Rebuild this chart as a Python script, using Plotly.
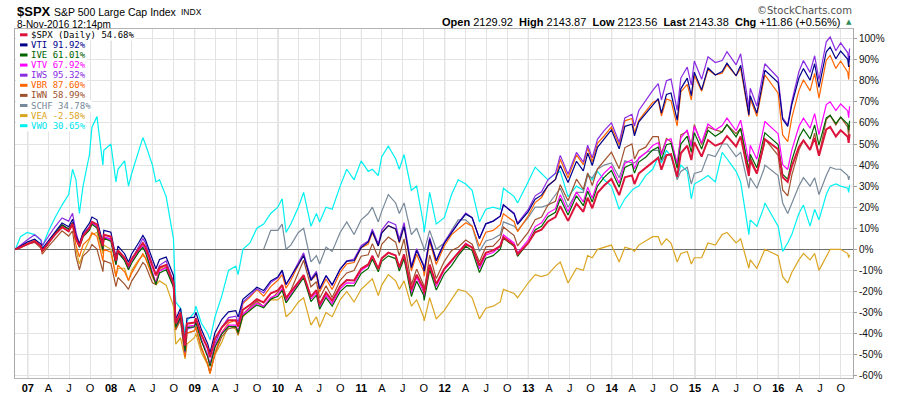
import plotly.graph_objects as go

# ---------------- data (percent change since 8-Nov-2006) ----------------
dates = ["2006-11-08","2006-11-30","2006-12-29","2007-01-31","2007-02-28","2007-03-05","2007-03-30","2007-04-30","2007-05-31","2007-06-29",
"2007-07-16","2007-07-31","2007-08-15","2007-08-31","2007-09-28","2007-10-09","2007-10-31","2007-11-26","2007-11-30","2007-12-31",
"2008-01-22","2008-01-31","2008-02-29","2008-03-17","2008-03-31","2008-04-30","2008-05-19","2008-05-30","2008-06-30","2008-07-15",
"2008-07-31","2008-08-29","2008-09-30","2008-10-10","2008-10-31","2008-11-20","2008-11-28","2008-12-31","2009-01-06","2009-01-30",
"2009-02-27","2009-03-09","2009-03-31","2009-04-30","2009-05-29","2009-06-30","2009-07-10","2009-07-31","2009-08-31","2009-09-30",
"2009-10-30","2009-11-30","2009-12-31","2010-01-19","2010-02-05","2010-02-26","2010-03-31","2010-04-23","2010-05-25","2010-06-18",
"2010-07-02","2010-07-30","2010-08-26","2010-09-30","2010-10-29","2010-11-30","2010-12-31","2011-01-31","2011-02-18","2011-03-16",
"2011-03-31","2011-04-29","2011-05-31","2011-06-16","2011-07-07","2011-08-08","2011-08-31","2011-09-30","2011-10-03","2011-10-27",
"2011-11-25","2011-12-30","2012-01-31","2012-02-29","2012-04-02","2012-04-30","2012-06-01","2012-06-29","2012-07-31","2012-08-31",
"2012-09-14","2012-10-31","2012-11-15","2012-12-31","2013-01-31","2013-02-28","2013-03-28","2013-04-30","2013-05-21","2013-06-24",
"2013-07-31","2013-08-30","2013-09-18","2013-10-08","2013-10-31","2013-11-29","2013-12-31","2014-02-03","2014-02-28","2014-03-31",
"2014-04-11","2014-04-30","2014-05-30","2014-06-30","2014-07-24","2014-08-07","2014-08-29","2014-09-18","2014-10-15","2014-10-31",
"2014-11-28","2014-12-16","2014-12-29","2015-01-30","2015-02-27","2015-03-31","2015-04-30","2015-05-21","2015-06-30","2015-07-20",
"2015-08-25","2015-08-31","2015-09-29","2015-10-30","2015-11-03","2015-12-31","2016-01-20","2016-02-11","2016-02-29","2016-03-31",
"2016-04-20","2016-05-19","2016-06-08","2016-06-27","2016-07-29","2016-08-15","2016-09-09","2016-09-30","2016-10-31","2016-11-04",
"2016-11-08"]

spx = [0, 1.1, 2.4, 3.8, 1.5, -0.8, 2.5, 7.0, 10.5, 8.5,
 12.1, 5.0, 1.5, 6.4, 10.2, 13.0, 11.8, 1.6, 6.9, 6.0,
 -5.4, -0.5, -4.0, -7.9, -4.6, 0.0, 3.0, 1.1, -7.6, -12.3,
 -8.5, -7.4, -15.8, -35.1, -30.1, -45.7, -35.3, -34.8, -32.6, -40.4,
 -47.0, -51.2, -42.4, -37.0, -33.7, -33.7, -36.6, -28.7, -26.4, -23.7,
 -25.2, -20.9, -19.5, -17.0, -23.1, -20.3, -15.6, -12.2, -22.5, -19.4,
 -26.2, -20.5, -24.4, -17.6, -14.6, -14.8, -9.2, -7.2, -3.1, -9.3,
 -4.3, -1.6, -2.9, -8.5, -2.4, -19.2, -12.0, -18.4, -20.7, -7.3,
 -16.4, -9.3, -5.3, -1.5, 2.4, 0.9, -7.8, -1.7, -0.5, 1.5,
 5.8, 1.9, -2.3, 2.9, 8.1, 9.3, 13.2, 15.3, 20.5, 13.5,
 21.7, 17.8, 24.5, 19.5, 26.8, 30.3, 33.4, 25.7, 34.2, 35.1,
 31.0, 36.0, 38.8, 41.5, 43.5, 37.8, 44.6, 45.2, 34.4, 45.6,
 49.2, 42.4, 50.9, 44.0, 51.9, 49.2, 50.5, 53.8, 48.9, 53.6,
 34.8, 42.3, 36.0, 50.1, 52.3, 47.5, 34.2, 32.0, 39.4, 48.6,
 51.7, 47.2, 52.9, 44.4, 56.9, 58.1, 53.6, 56.5, 53.4, 50.5,
 54.68]

vti = [0, 1.6, 3.4, 4.8, 2.5, 0.2, 3.7, 8.6, 12.5, 10.7,
 14.3, 6.6, 2.5, 8.0, 12.4, 15.3, 14.0, 3.1, 9.0, 8.1,
 -4.0, 1.5, -2.1, -6.1, -2.2, 3.0, 6.6, 4.6, -4.4, -9.2,
 -4.8, -3.7, -12.4, -33.2, -28.0, -44.1, -32.7, -32.2, -29.9, -38.0,
 -44.9, -49.2, -39.5, -33.2, -29.7, -29.1, -32.2, -23.7, -20.9, -18.0,
 -19.6, -15.0, -13.1, -9.9, -16.6, -13.1, -7.2, -3.0, -14.7, -11.3,
 -18.8, -12.5, -16.8, -9.4, -5.6, -5.4, 0.8, 3.5, 8.5, 1.6,
 7.7, 11.2, 9.7, 3.4, 10.8, -8.7, -0.6, -7.8, -10.4, 4.8,
 -5.5, 2.9, 8.0, 12.3, 16.7, 15.0, 5.1, 12.1, 13.4, 15.7,
 21.1, 16.7, 11.9, 17.8, 23.8, 25.7, 30.2, 33.2, 39.8, 31.7,
 41.8, 37.2, 45.7, 39.8, 48.4, 52.5, 56.7, 47.7, 58.4, 59.4,
 53.9, 60.5, 64.5, 68.4, 71.5, 64.7, 73.5, 74.2, 61.3, 76.2,
 81.3, 73.0, 84.1, 75.7, 86.1, 82.8, 84.4, 88.4, 82.4, 87.4,
 63.8, 72.9, 64.6, 82.4, 85.0, 79.2, 61.7, 58.4, 68.7, 81.3,
 85.8, 80.3, 88.1, 76.9, 93.8, 96.0, 90.5, 94.1, 90.2, 86.6,
 91.92]

ive = [0, 1.1, 2.4, 3.8, 1.5, -0.8, 2.5, 7.5, 11.6, 9.6,
 12.7, 5.0, 1.0, 5.9, 9.1, 11.9, 10.1, -0.4, 5.3, 3.9,
 -7.3, -1.5, -5.4, -9.7, -6.5, -1.5, 0.9, -1.4, -11.3, -16.7,
 -11.2, -9.7, -17.9, -37.0, -32.2, -48.4, -37.2, -36.8, -34.6, -43.4,
 -51.2, -55.6, -46.4, -40.1, -36.7, -36.7, -39.5, -31.6, -29.0, -26.4,
 -27.8, -23.7, -22.3, -19.5, -25.4, -22.3, -17.3, -13.5, -24.8, -21.8,
 -28.4, -22.9, -27.0, -20.1, -17.2, -17.4, -11.5, -9.1, -4.6, -10.7,
 -5.7, -3.1, -4.4, -10.3, -4.4, -22.4, -15.1, -21.7, -24.3, -9.6,
 -19.3, -11.6, -7.7, -3.0, 1.4, -0.6, -11.0, -4.2, -3.0, 0.0,
 5.3, 1.4, -3.3, 2.9, 9.2, 10.9, 15.5, 17.6, 24.1, 16.3,
 25.4, 20.7, 27.6, 22.5, 30.0, 34.2, 37.4, 29.5, 38.9, 40.5,
 36.2, 41.4, 43.7, 47.2, 48.5, 42.6, 49.7, 50.3, 38.4, 50.0,
 53.7, 46.0, 55.4, 47.6, 56.5, 53.7, 55.8, 59.2, 53.4, 57.4,
 37.5, 45.1, 38.7, 53.1, 55.3, 49.7, 35.5, 33.3, 42.2, 53.1,
 57.0, 52.4, 59.0, 49.5, 62.4, 63.6, 59.7, 62.8, 59.5, 56.5,
 61.01]

vtv = [0, 1.1, 2.4, 3.8, 1.5, -0.8, 2.5, 7.5, 11.6, 9.6,
 12.7, 5.0, 1.5, 6.4, 9.7, 12.4, 10.7, 0.1, 5.8, 4.4,
 -6.8, -1.0, -5.0, -9.3, -6.0, -1.0, 2.0, -0.4, -10.4, -15.8,
 -10.3, -8.8, -17.1, -36.4, -31.5, -47.9, -36.6, -36.1, -33.9, -42.8,
 -50.7, -55.1, -45.9, -39.5, -36.0, -36.0, -38.8, -30.8, -28.2, -25.6,
 -27.1, -22.9, -21.5, -18.7, -24.6, -21.5, -16.4, -12.6, -23.7, -20.6,
 -27.3, -21.7, -25.9, -18.8, -15.9, -16.1, -10.1, -7.7, -3.1, -9.3,
 -4.3, -1.6, -2.9, -9.0, -2.9, -20.8, -13.3, -20.0, -22.7, -8.2,
 -17.7, -9.8, -5.8, -1.5, 2.9, 0.9, -9.2, -2.7, -1.5, 1.5,
 6.9, 2.9, -1.8, 4.4, 10.8, 12.6, 17.2, 19.3, 25.9, 18.0,
 27.2, 22.5, 29.5, 24.3, 31.9, 36.2, 39.4, 31.4, 40.9, 42.5,
 38.2, 43.5, 45.7, 49.3, 50.7, 44.7, 51.8, 52.5, 40.4, 52.9,
 56.7, 48.8, 58.4, 50.5, 59.5, 56.7, 58.8, 62.3, 56.3, 61.3,
 41.5, 49.4, 42.8, 58.4, 60.7, 54.9, 40.2, 37.9, 47.1, 58.3,
 62.3, 57.5, 64.4, 54.5, 68.7, 70.0, 65.9, 69.0, 65.7, 62.5,
 67.92]

iws = [0, 2.1, 4.4, 6.9, 4.5, 1.7, 5.6, 10.7, 14.9, 13.4,
 17.1, 8.2, 2.5, 7.5, 10.8, 13.0, 10.7, 0.1, 5.8, 4.9,
 -7.3, -1.5, -5.0, -8.8, -5.1, 1.0, 5.1, 3.1, -6.7, -12.3,
 -7.6, -5.5, -15.8, -37.0, -32.9, -49.0, -37.9, -36.8, -34.6, -42.8,
 -50.2, -54.6, -44.7, -37.0, -32.4, -31.7, -34.7, -25.1, -22.0, -18.7,
 -20.7, -15.8, -13.5, -10.4, -16.9, -13.1, -6.3, -1.7, -14.0, -10.5,
 -18.8, -12.5, -17.2, -9.4, -5.6, -4.6, 1.7, 3.9, 9.5, 2.5,
 9.1, 13.2, 11.7, 4.8, 12.7, -7.9, 0.3, -7.4, -10.4, 5.7,
 -5.1, 3.4, 8.4, 12.8, 17.2, 15.0, 5.1, 12.1, 13.4, 15.7,
 21.1, 17.2, 12.4, 18.8, 25.4, 27.3, 33.0, 36.1, 44.6, 35.6,
 46.0, 41.4, 49.4, 43.4, 52.2, 56.4, 60.1, 50.8, 62.4, 64.1,
 58.5, 65.9, 70.7, 75.5, 78.7, 70.9, 80.0, 80.8, 66.0, 81.3,
 86.5, 78.0, 89.4, 80.7, 91.4, 88.7, 89.6, 93.8, 87.6, 92.8,
 67.2, 76.5, 68.0, 85.4, 88.1, 81.4, 62.4, 59.1, 70.1, 84.3,
 89.6, 84.0, 91.9, 80.5, 98.5, 100.8, 94.3, 98.0, 93.3, 89.6,
 95.32]

vbr = [0, 1.1, 2.4, 4.3, 1.5, -1.3, 2.5, 7.5, 11.1, 8.5,
 11.5, 1.9, -3.6, 2.1, 5.2, 7.9, 6.2, -5.5, 0.0, -1.4,
 -13.0, -7.5, -10.7, -14.8, -11.3, -6.0, -2.1, -4.0, -13.1, -15.8,
 -9.4, -7.4, -15.8, -37.7, -33.6, -51.1, -39.8, -38.7, -36.6, -46.4,
 -54.4, -59.0, -49.3, -39.5, -35.0, -33.7, -36.6, -25.8, -22.7, -19.1,
 -22.2, -17.7, -14.7, -12.0, -18.5, -14.7, -7.2, -2.5, -14.7, -12.1,
 -20.3, -14.1, -19.1, -11.0, -6.9, -6.3, 0.8, 2.5, 8.0, 1.6,
 8.1, 11.2, 9.7, 2.9, 11.3, -10.3, -2.3, -10.2, -12.8, 3.8,
 -7.2, 1.6, 7.0, 9.8, 12.6, 11.0, 1.4, 8.1, 9.0, 11.7,
 16.9, 13.1, 8.4, 15.8, 22.2, 24.6, 30.2, 33.2, 42.8, 33.9,
 44.8, 40.2, 48.2, 41.6, 50.3, 53.8, 58.1, 49.6, 61.0, 62.1,
 55.2, 61.2, 65.2, 69.8, 70.8, 63.3, 71.4, 70.6, 58.6, 74.7,
 78.3, 70.9, 82.6, 75.0, 85.3, 82.8, 83.6, 87.6, 82.4, 85.9,
 63.1, 71.5, 63.2, 80.1, 82.8, 74.1, 54.3, 51.1, 62.4, 75.3,
 80.5, 75.2, 83.5, 71.8, 89.8, 92.1, 85.9, 89.4, 84.1, 80.6,
 87.60]

iwn = [0, 0.6, 2.4, 3.3, 0.5, -2.3, 1.0, 4.9, 8.8, 6.3,
 8.7, -3.4, -9.7, -3.2, -0.3, 2.3, 0.1, -10.6, -5.4, -6.7,
 -17.7, -13.4, -16.5, -19.0, -15.1, -10.0, -6.3, -7.5, -15.9, -16.7,
 -10.3, -8.3, -17.5, -38.3, -33.6, -51.1, -39.8, -38.7, -37.3, -47.0,
 -54.4, -58.5, -49.3, -41.4, -37.7, -37.0, -40.4, -30.8, -27.5, -24.5,
 -27.4, -24.1, -20.3, -17.0, -23.9, -19.5, -11.4, -5.2, -17.8, -15.4,
 -23.2, -17.3, -22.9, -14.7, -11.2, -10.1, -3.3, -2.6, 2.7, -3.9,
 2.4, 5.8, 3.4, -3.0, 4.9, -16.8, -9.4, -16.8, -19.9, -2.7,
 -13.9, -5.7, -0.6, 1.0, 4.4, 2.4, -6.0, 1.2, 1.5, 5.1,
 10.6, 6.5, 1.6, 8.0, 14.0, 15.3, 21.1, 22.8, 30.7, 23.1,
 33.3, 28.4, 36.3, 30.3, 38.2, 42.0, 46.1, 38.3, 48.3, 50.0,
 42.8, 46.9, 48.5, 53.5, 53.5, 45.4, 52.6, 51.0, 40.4, 54.3,
 55.9, 49.5, 59.2, 49.8, 58.0, 56.7, 55.8, 59.2, 54.9, 57.4,
 37.5, 43.7, 36.0, 49.3, 52.3, 44.6, 28.2, 25.4, 35.2, 47.1,
 51.7, 47.2, 55.2, 44.4, 61.6, 63.6, 59.0, 62.8, 58.0, 53.5,
 58.99]

schf = [None] * 50 + [0, 9, 9, 12, 0, 2, 8, 10, -6, -3,
 -7, 1, -1, 8, 13, 7, 14, 17, 20, 13,
 18, 26, 22, 17, 22, 7, 10, 1, -1, 9,
 0, 3, 9, 14, 14, 11, -1, 4, 5, 7,
 13, 11, 9, 15, 20, 20, 21, 26, 29, 20,
 27, 27, 35, 34, 38, 40, 41, 34, 42, 41,
 41, 43, 46, 47, 47, 42, 45, 45, 33, 37,
 39, 31, 36, 37, 45, 44, 50, 50, 44, 46,
 29, 34, 29, 38, 40, 35, 22, 17, 22, 30,
 34, 30, 34, 26, 35, 39, 38, 38, 35, 33,
 34.78]

vea = [None] * 11 + [0, -7, -2, 4, 7, 8, -2, 2, 0,
 -13, -9, -9, -15, -10, -5, -3, -4, -12, -17,
 -15, -17, -27, -45, -42, -52, -45, -42, -40, -49,
 -55, -59, -50, -44, -36, -38, -41, -32, -29, -25,
 -27, -24, -24, -22, -32, -30, -25, -23, -36, -32,
 -37, -30, -32, -24, -20, -25, -19, -16, -14, -22,
 -17, -12, -15, -19, -15, -27, -24, -32, -34, -23,
 -33, -29, -24, -19, -20, -23, -33, -28, -27, -25,
 -19, -21, -23, -16, -12, -13, -12, -8, -6, -16,
 -9, -10, -3, -4, 0, 1, 2, -6, 1, 0,
 -1, 2, 4, 6, 6, 2, 5, 3, -6, -2,
 -1, -7, -4, -4, 3, 2, 7, 8, 3, 5,
 -9, -5, -9, -1, 0, -3, -13, -16, -11, -5,
 -2, -5, -2, -10, -3, 0, 0, 0, -2, -4,
 -2.58]

vwo = [0, 6, 8, 7, 4, 1, 8, 15, 21, 26,
 38, 33, 17, 30, 45, 58, 63, 40, 47, 50,
 32, 38, 42, 30, 36, 47, 53, 50, 40, 32,
 33, 25, 5, -25, -28, -40, -34, -30, -27, -35,
 -40, -43, -32, -22, -10, -8, -12, 0, 3, 10,
 12, 17, 20, 24, 8, 12, 20, 27, 11, 17,
 13, 20, 19, 30, 38, 33, 42, 37, 38, 35,
 44, 49, 43, 38, 45, 28, 30, 12, 8, 27,
 12, 15, 26, 33, 31, 28, 13, 19, 20, 19,
 29, 25, 22, 32, 39, 36, 33, 36, 37, 25,
 30, 28, 36, 33, 37, 33, 30, 19, 24, 28,
 29, 30, 35, 38, 44, 41, 47, 44, 34, 40,
 37, 24, 31, 33, 35, 32, 46, 43, 37, 32,
 7, 14, 11, 20, 22, 11, -1, 3, 7, 17,
 21, 11, 19, 14, 26, 30, 31, 30, 29, 27,
 30.65]

legend_labels = ["$SPX\u00a0(Daily)\u00a054.68%", "VTI 91.92%", "IVE 61.01%", "VTV 67.92%", "IWS 95.32%",
                 "VBR 87.60%", "IWN 58.99%", "SCHF 34.78%", "VEA -2.58%", "VWO 30.65%"]
year_labels = ["07", "08", "09", "10", "11", "12", "13", "14", "15", "16"]
quarter_letters = ["A", "J", "O"]
y_ticks = [-60, -50, -40, -30, -20, -10, 0, 10, 20, 30, 40, 50, 60, 70, 80, 90, 100]

# ---------------- styles ----------------
series = [
    ("$SPX", spx, "#DC143C", 2.0, "#000000"),
    ("VTI", vti, "#00008B", 1.2, "#00008B"),
    ("IVE", ive, "#006400", 1.2, "#006400"),
    ("VTV", vtv, "#FF00FF", 1.2, "#FF00FF"),
    ("IWS", iws, "#8A2BE2", 1.2, "#8A2BE2"),
    ("VBR", vbr, "#FF6600", 1.2, "#FF6600"),
    ("IWN", iwn, "#A0522D", 1.2, "#A0522D"),
    ("SCHF", schf, "#778899", 1.2, "#778899"),
    ("VEA", vea, "#DAA520", 1.2, "#DAA520"),
    ("VWO", vwo, "#00F0F0", 1.2, "#00E5EE"),
]

fig = go.Figure()
draw_order = [9, 8, 7, 6, 5, 4, 3, 2, 1, 0]
for i in draw_order:
    name, vals, color, width, _ = series[i]
    fig.add_trace(go.Scatter(x=dates, y=vals, mode="lines", name=name,
                             line=dict(color=color, width=width),
                             connectgaps=False, showlegend=False, hoverinfo="skip"))

# ---------------- geometry helpers (pixel -> paper) ----------------
L, R, T, B = 15, 853, 29, 378
W, H = R - L, B - T
def px(x):
    return (x - L) / W
def py(y):
    return (B - y) / H

# x ticks (quarters)
tickvals, ticktext = [], []
for k, yl in enumerate(year_labels):
    yr = 2007 + k
    tickvals.append(f"{yr}-01-01"); ticktext.append(f"<b>{yl}</b>")
    for m, q in zip((4, 7, 10), quarter_letters):
        tickvals.append(f"{yr}-{m:02d}-01"); ticktext.append(q)

font_main = "Liberation Sans, Arial, Helvetica, sans-serif"

fig.update_layout(
    width=900, height=396, autosize=False,
    margin=dict(l=L, r=900 - R, t=T, b=396 - B, pad=0, autoexpand=False),
    plot_bgcolor="white", paper_bgcolor="white",
    showlegend=False, hovermode=False,
    font=dict(family=font_main, size=11, color="#000000"),
    xaxis=dict(type="date", range=["2006-11-06", "2016-11-23"], automargin=False,
               tickvals=tickvals, ticktext=ticktext, tickangle=0,
               showgrid=True, gridcolor="#e3e3e3", gridwidth=1,
               ticks="", tickfont=dict(size=11, color="#000000", family=font_main),
               showline=True, linecolor="#b4b4b4", linewidth=1, mirror=True,
               zeroline=False, fixedrange=True),
    yaxis=dict(side="right", range=[-61.1, 104.6], automargin=False,
               tickvals=y_ticks, ticktext=[f"{v}%" for v in y_ticks],
               showgrid=True, gridcolor="#e3e3e3", gridwidth=1,
               zeroline=True, zerolinecolor="#6e6e6e", zerolinewidth=1,
               ticks="outside", ticklen=3, tickcolor="#a0a0a0",
               tickfont=dict(size=10, color="#111111", family=font_main),
               showline=True, linecolor="#a8a8a8", linewidth=1, mirror=True,
               fixedrange=True),
)

shapes = []
# darker year grid lines
for k in range(len(year_labels)):
    yr = 2007 + k
    shapes.append(dict(type="line", xref="x", yref="paper", x0=f"{yr}-01-01", x1=f"{yr}-01-01",
                       y0=0, y1=1, line=dict(color="#c6c6c6", width=1), layer="below"))

# legend
row0, row_gap = 34.8, 10.1
shapes.append(dict(type="rect", xref="paper", yref="paper", x0=px(16), x1=px(30.5),
                   y0=py(row0 + 9 * row_gap + 5.5), y1=py(30), fillcolor="white",
                   line=dict(width=0), layer="above"))
annotations = []
for i, (name, vals, color, width, tcolor) in enumerate(series):
    yc = row0 + i * row_gap
    shapes.append(dict(type="rect", xref="paper", yref="paper", x0=px(20), x1=px(27.5),
                       y0=py(yc + 1.5), y1=py(yc - 1.5), fillcolor=color,
                       line=dict(width=0), layer="above"))
    annotations.append(dict(xref="paper", yref="paper", x=px(30), y=py(yc),
                            xanchor="left", yanchor="middle", showarrow=False,
                            text=legend_labels[i], bgcolor="white", borderpad=0,
                            font=dict(family="DejaVu Sans Mono, monospace", size=9, color=tcolor)))

# header
annotations += [
    dict(xref="paper", yref="paper", x=px(15), y=py(11.5), xanchor="left", yanchor="middle",
         showarrow=False, text="<b>$SPX</b>", font=dict(size=13, color="#000000", family=font_main)),
    dict(xref="paper", yref="paper", x=px(52), y=py(12), xanchor="left", yanchor="middle",
         showarrow=False, text="S&amp;P 500 Large Cap Index", font=dict(size=10.5, color="#000000", family=font_main)),
    dict(xref="paper", yref="paper", x=px(179), y=py(12.5), xanchor="left", yanchor="middle",
         showarrow=False, text="INDX", font=dict(size=8.5, color="#000000", family=font_main)),
    dict(xref="paper", yref="paper", x=px(15), y=py(24), xanchor="left", yanchor="middle",
         showarrow=False, text="8-Nov-2016 12:14pm", font=dict(size=10, color="#000000", family=font_main)),
    dict(xref="paper", yref="paper", x=px(854), y=py(10.5), xanchor="right", yanchor="middle",
         showarrow=False, text="\u00a9StockCharts.com", font=dict(size=10, color="#505050", family="DejaVu Sans, sans-serif")),
    dict(xref="paper", yref="paper", x=px(843), y=py(22.5), xanchor="right", yanchor="middle",
         showarrow=False,
         text="<b>Open</b> 2129.92\u00a0\u00a0<b>High</b> 2143.87\u00a0\u00a0<b>Low</b> 2123.56\u00a0\u00a0"
              "<b>Last</b> 2143.38\u00a0\u00a0<b>Chg</b> +11.86 (+0.56%)",
         font=dict(size=11, color="#000000", family=font_main)),
    dict(xref="paper", yref="paper", x=px(848.5), y=py(22.5), xanchor="center", yanchor="middle",
         showarrow=False, text="\u25b2", font=dict(size=7, color="#2E8B57", family="DejaVu Sans, sans-serif")),
]

fig.update_layout(shapes=shapes, annotations=annotations)
fig.write_html("out.html", config={"responsive": False, "displayModeBar": False, "staticPlot": True},
               post_script="document.body.style.margin='0px';document.body.style.overflow='hidden';")
